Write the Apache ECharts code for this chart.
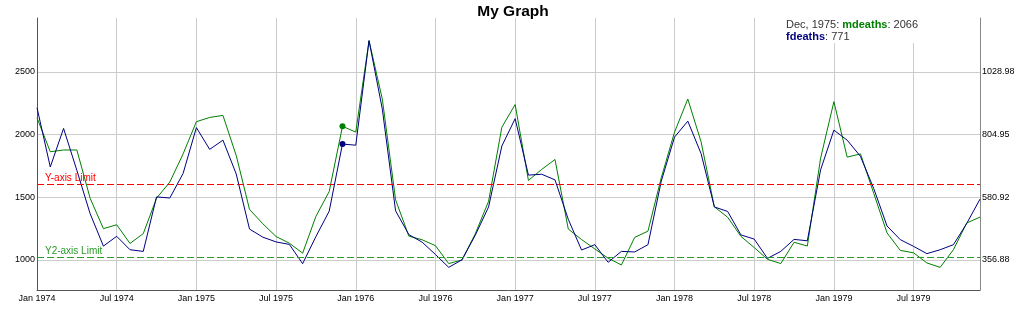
<!DOCTYPE html>
<html>
<head>
<meta charset="utf-8">
<script src="https://cdn.jsdelivr.net/npm/echarts@6/dist/echarts.min.js"></script>
<style>
html,body{margin:0;padding:0;background:#fff;}
#chart{width:1024px;height:311px;}
</style>
</head>
<body>
<div id="chart"></div>
<script>
// ---- data ----
var monthNames = ["Jan","Feb","Mar","Apr","May","Jun","Jul","Aug","Sep","Oct","Nov","Dec"];
var years = [1974, 1975, 1976, 1977, 1978, 1979];
var mdeaths = [
  2134, 1863, 1877, 1877, 1492, 1249, 1280, 1131, 1209, 1492, 1621, 1846,
  2103, 2137, 2153, 1833, 1403, 1288, 1186, 1133, 1053, 1347, 1545, 2066,
  2020, 2750, 2283, 1479, 1189, 1160, 1113, 970, 999, 1208, 1467, 2059,
  2240, 1634, 1722, 1801, 1246, 1162, 1087, 1013, 959, 1179, 1229, 1655,
  2019, 2284, 1942, 1423, 1340, 1187, 1098, 1004, 970, 1140, 1110, 1812,
  2263, 1820, 1846, 1531, 1215, 1075, 1056, 975, 940, 1081, 1294, 1341
];
var fdeaths = [
  901, 689, 827, 677, 522, 406, 441, 393, 387, 582, 578, 666,
  830, 752, 785, 664, 467, 438, 421, 412, 343, 440, 531, 771,
  767, 1141, 896, 532, 447, 420, 376, 330, 357, 445, 546, 764,
  862, 660, 663, 643, 502, 392, 411, 348, 387, 385, 411, 638,
  796, 853, 737, 546, 530, 446, 431, 362, 387, 430, 425, 679,
  821, 785, 727, 612, 478, 429, 405, 379, 393, 411, 487, 574
];
var rightTickLabels = ["356.88", "580.92", "804.95", "1028.98"];
var yLimit = 1600;
var y2Limit = 367;
var highlightIndex = 23; // Dec 1975

// ---- build ----
var categories = [];
years.forEach(function (y) { monthNames.forEach(function (m) { categories.push(m + " " + y); }); });

function padded(arr) {
  var mn = Math.min.apply(null, arr), mx = Math.max.apply(null, arr);
  var p = (mx - mn) * 0.1;
  return [mn - p, mx + p];
}
var yr = padded(mdeaths), y2r = padded(fdeaths);
var rightTicks = rightTickLabels.map(Number);

var GREEN = "#008000", NAVY = "#000080";
var FONT = "Liberation Sans, Arial, sans-serif";

var chart = echarts.init(document.getElementById("chart"), null, {renderer: "canvas"});
var hlCat = categories[highlightIndex].split(" ");

var option = {
  animation: false,
  backgroundColor: "#fff",
  textStyle: {fontFamily: FONT},
  title: {
    text: "My Graph",
    left: 508, top: -1, textAlign: "center",
    textStyle: {fontSize: 15.5, fontWeight: "bold", color: "#000", fontFamily: FONT}
  },
  grid: {left: 37, right: 44, top: 18, bottom: 21, containLabel: false},
  xAxis: {
    type: "category",
    data: categories,
    boundaryGap: false,
    axisLine: {show: true, lineStyle: {color: "#555", width: 1}},
    axisTick: {show: false},
    axisLabel: {interval: 5, fontSize: 9, color: "#000", margin: 4, fontFamily: FONT},
    splitLine: {show: true, interval: 5, lineStyle: {color: "#ccc", width: 1}}
  },
  yAxis: [
    {
      type: "value",
      min: yr[0], max: yr[1],
      splitNumber: 4,
      axisLine: {show: true, lineStyle: {color: "#555", width: 1}},
      axisTick: {show: false},
      axisLabel: {
        showMinLabel: false, showMaxLabel: false,
        formatter: function (v) { return String(Math.round(v)); },
        fontSize: 9, color: "#000", margin: 2, fontFamily: FONT
      },
      splitLine: {show: true, showMinLine: false, showMaxLine: false, lineStyle: {color: "#ccc", width: 1}}
    },
    {
      type: "value",
      min: y2r[0], max: y2r[1],
      position: "right",
      axisLine: {show: true, lineStyle: {color: "#888", width: 1}},
      axisTick: {show: false},
      axisLabel: {
        customValues: rightTicks,
        formatter: function (v) { return v.toFixed(2); },
        fontSize: 9, color: "#000", margin: 2, fontFamily: FONT
      },
      splitLine: {show: false}
    }
  ],
  series: [
    {
      name: "mdeaths",
      type: "line",
      yAxisIndex: 0,
      data: mdeaths,
      showSymbol: true,
      showAllSymbol: true,
      symbol: function (v, p) { return p.dataIndex === highlightIndex ? "circle" : "none"; },
      symbolSize: 6,
      itemStyle: {color: GREEN},
      lineStyle: {color: GREEN, width: 1},
      z: 3,
      markLine: {
        silent: true,
        symbol: ["none", "none"],
        lineStyle: {color: "red", type: [7, 3], width: 1},
        label: {show: true, position: "insideStartTop", formatter: "Y-axis Limit", color: "red", fontSize: 10, distance: [8, 1], fontFamily: FONT},
        data: [{yAxis: yLimit}]
      }
    },
    {
      name: "fdeaths",
      type: "line",
      yAxisIndex: 1,
      data: fdeaths,
      showSymbol: true,
      showAllSymbol: true,
      symbol: function (v, p) { return p.dataIndex === highlightIndex ? "circle" : "none"; },
      symbolSize: 6,
      itemStyle: {color: NAVY},
      lineStyle: {color: NAVY, width: 1},
      z: 4,
      markLine: {
        silent: true,
        symbol: ["none", "none"],
        lineStyle: {color: "#2a9a2a", type: [7, 3], width: 1},
        label: {show: true, position: "insideStartTop", formatter: "Y2-axis Limit", color: "#2a9a2a", fontSize: 10, distance: [8, 1], fontFamily: FONT},
        data: [{yAxis: y2Limit}]
      }
    }
  ],
  graphic: [
    {
      type: "rect",
      left: 782, top: 18, z: 50,
      shape: {width: 196, height: 25},
      style: {fill: "#fff"}
    },
    {
      type: "text",
      left: 786, top: 19, z: 51,
      style: {
        text: hlCat[0] + ", " + hlCat[1] + ": {g|mdeaths}: " + mdeaths[highlightIndex] + "\n{b|fdeaths}: " + fdeaths[highlightIndex],
        fill: "#333",
        font: "11px " + FONT,
        lineHeight: 12,
        rich: {
          g: {fill: GREEN, fontWeight: "bold", fontSize: 11, fontFamily: FONT, lineHeight: 12},
          b: {fill: NAVY, fontWeight: "bold", fontSize: 11, fontFamily: FONT, lineHeight: 12}
        }
      }
    }
  ]
};
chart.setOption(option);
</script>
</body>
</html>
